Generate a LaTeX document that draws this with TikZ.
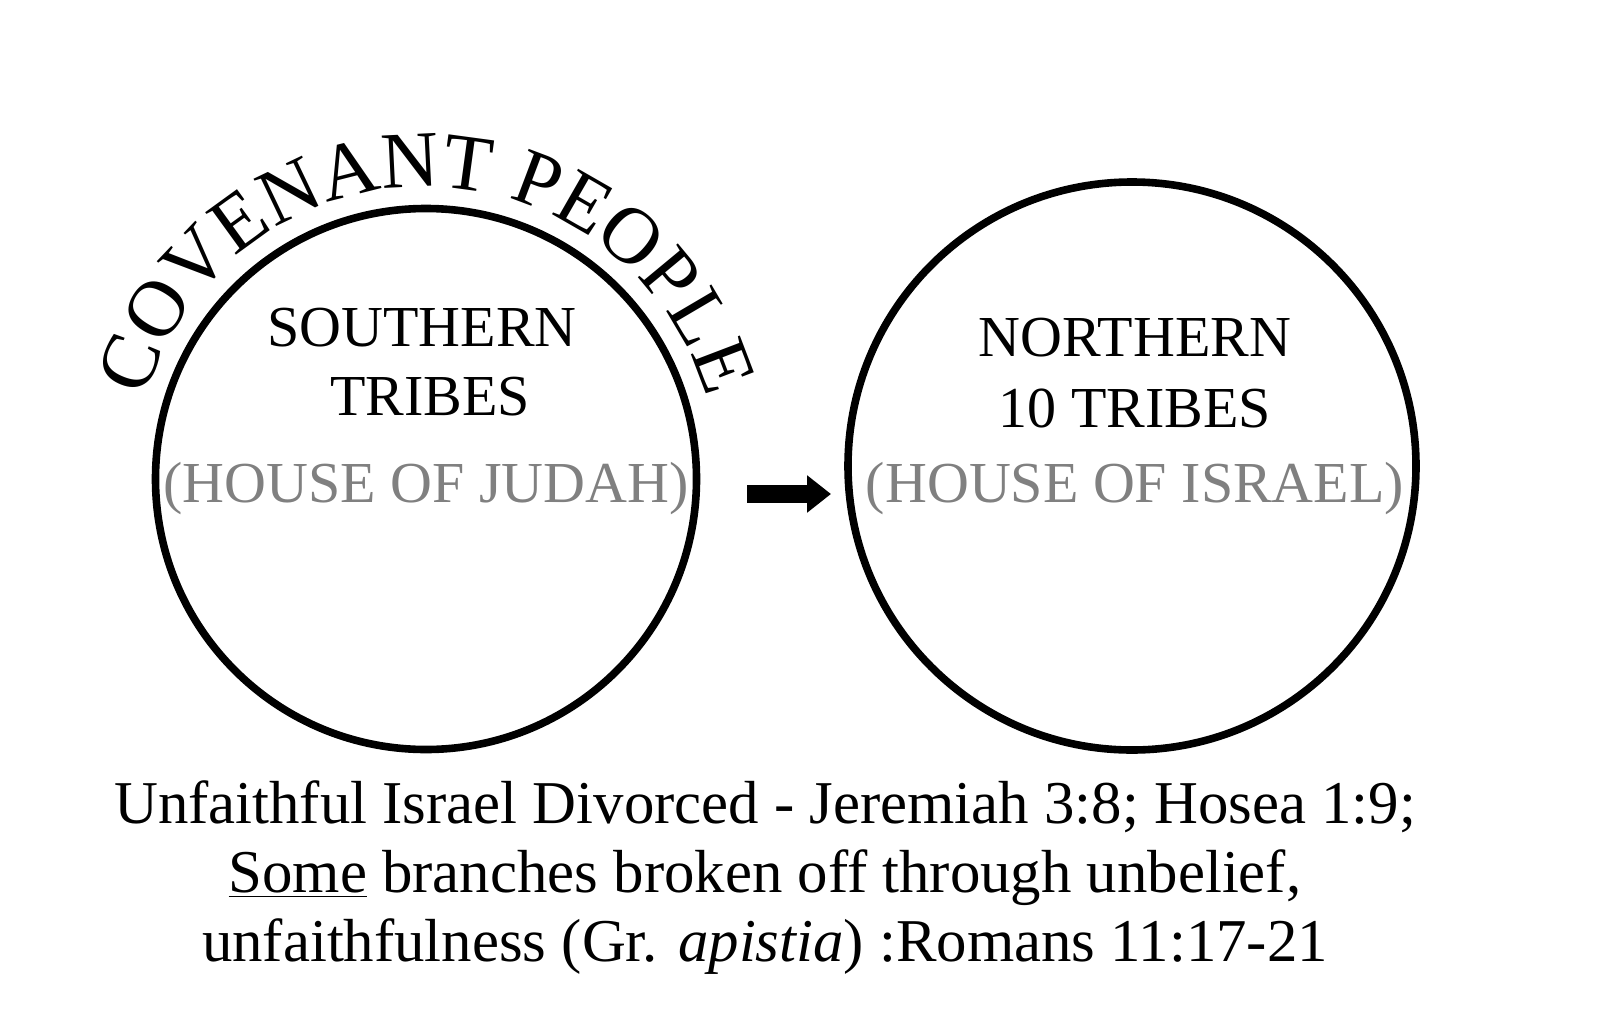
\documentclass[tikz,border=0pt]{standalone}
\usepackage{fontspec}
\setmainfont{Liberation Serif}
\usetikzlibrary{arrows.meta,decorations.text}

\begin{document}
\begin{tikzpicture}[x=0.5pt,y=0.5pt,
    ring/.style={draw,circle,line width=3.8pt,inner sep=0pt},
    tribe/.style={font=\fontsize{29}{29}\selectfont,inner sep=0pt},
    house/.style={tribe,text=gray},
    bigarrow/.style={line width=9pt,-{Triangle[width=18pt,length=12pt]}}]
  \useasboundingbox (0,0) rectangle (1600,-1012);
  % the two kingdoms
  \node[ring,minimum size=270.5pt] (judah) at (426,-479) {};
  \node[ring,minimum size=284pt] (israel) at (1132,-466) {};
  \node[tribe] (south) at (422,-328) {SOUTHERN};
  \node[tribe] (southtr) at (430,-397) {TRIBES};
  \node[house] (hjudah) at (426,-489) {(HOUSE OF JUDAH)};
  \node[tribe] (north) at (1135,-338) {NORTHERN};
  \node[tribe] (northtr) at (1135,-408) {10 TRIBES};
  \node[house] (hisrael) at (1135,-489) {(HOUSE OF ISRAEL)};
  % title bent round the left circle
  \path[decorate,decoration={text along path,text align=center,
      text={|\fontsize{40}{40}\selectfont|COVENANT PEOPLE}}]
    (judah.center) ++(165:292) arc[start angle=165,end angle=15,radius=292];
  % arrow between them
  \coordinate (from) at (747,-494);
  \coordinate (to) at (831,-494);
  \draw[bigarrow] (from) -- (to);
  % note underneath
  \node[align=center,font=\fontsize{30.4}{34.5}\selectfont] (note) at (765,-878)
    {Unfaithful Israel Divorced - Jeremiah 3:8; Hosea 1:9;\\
     \underline{Some} branches broken off through unbelief,\\
     unfaithfulness (Gr. \textit{apistia}) :Romans 11:17-21};
\end{tikzpicture}
\end{document}
